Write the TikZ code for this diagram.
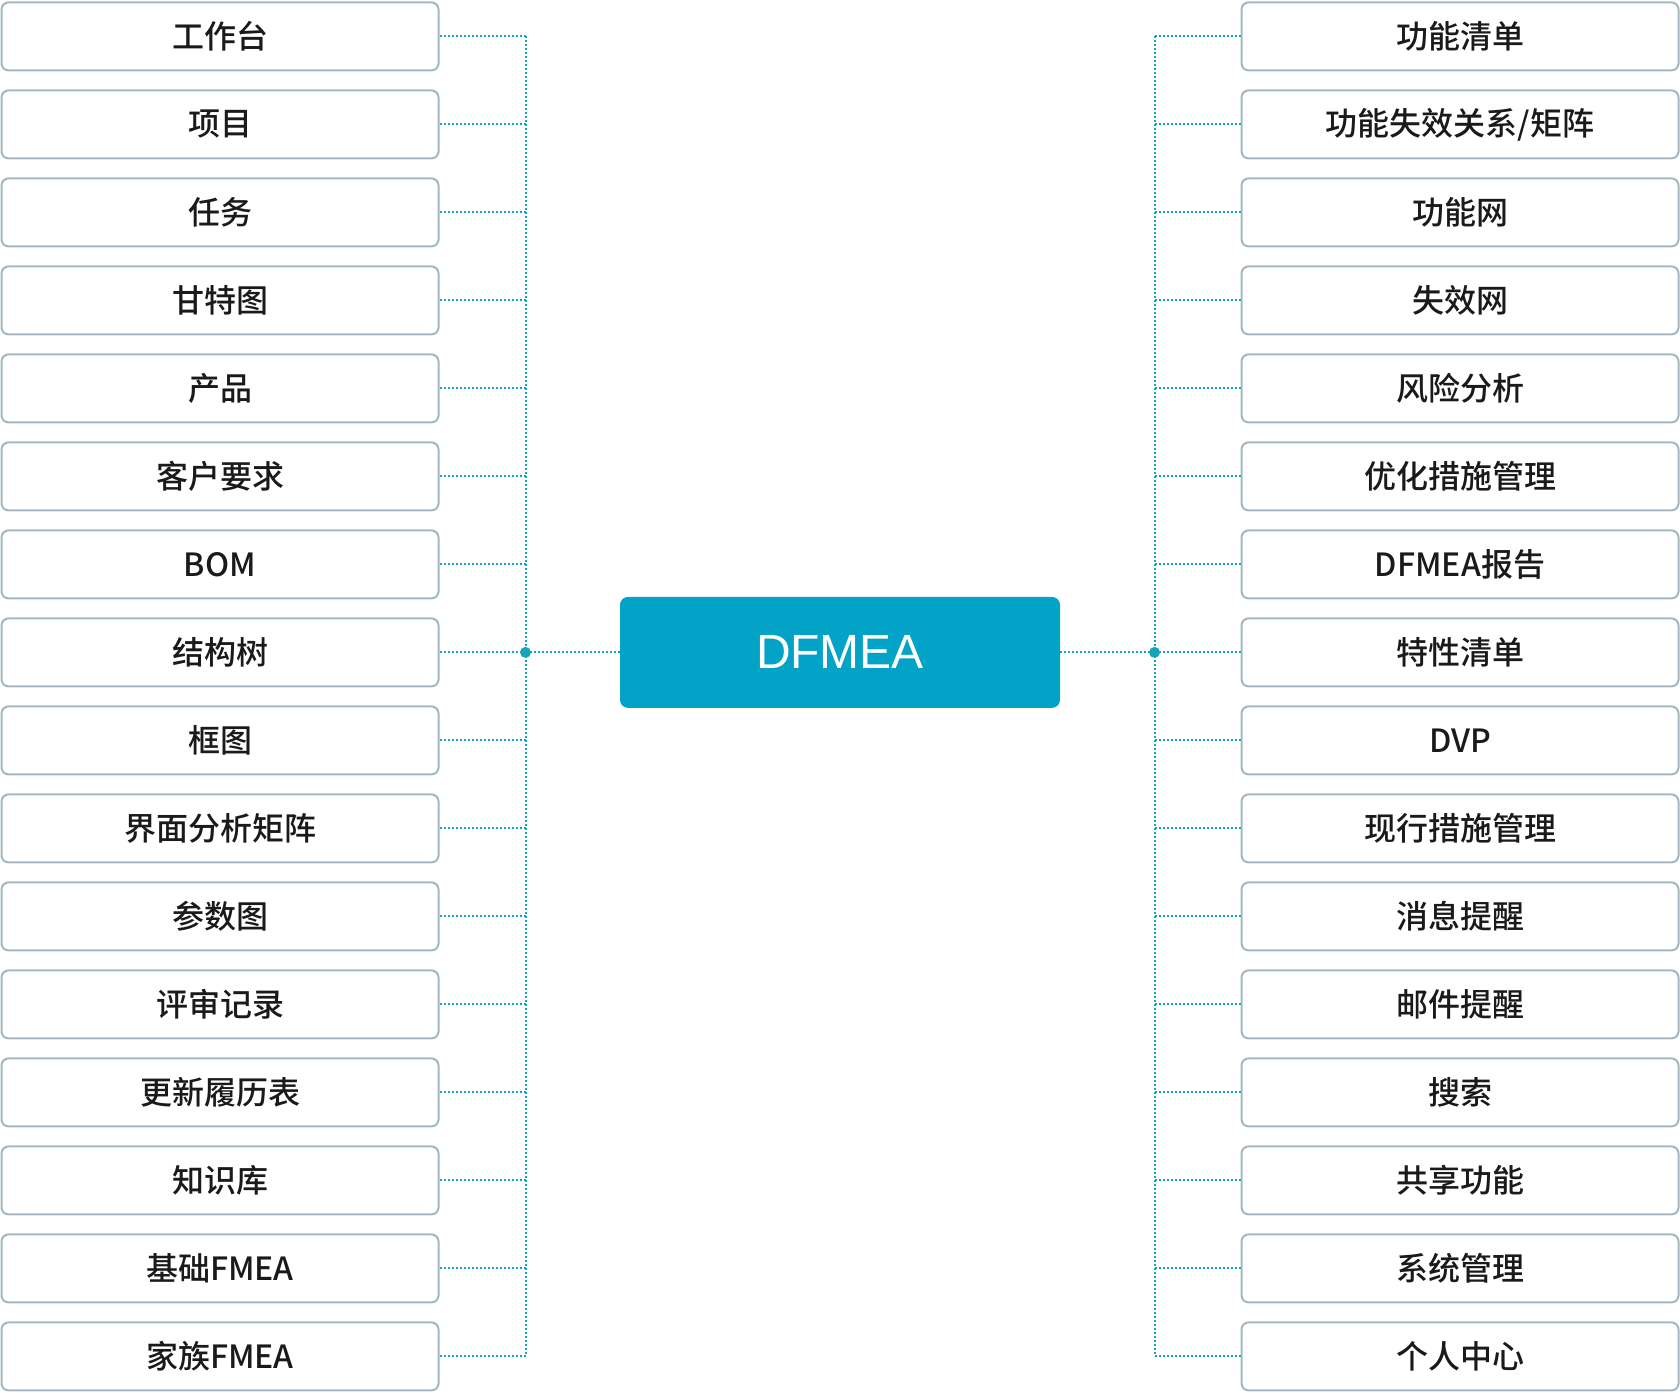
\documentclass[tikz,border=0pt]{standalone}
\usepackage{fontspec}
\setmainfont{Noto Sans CJK SC}[UprightFont={* Medium}]
\newfontfamily\latinf{Liberation Sans}
\definecolor{boxline}{HTML}{A3B8C0}
\definecolor{conncol}{HTML}{12A5BC}
\definecolor{mainfill}{HTML}{02A3C6}
\definecolor{txt}{HTML}{1A1A1A}
\begin{document}
\begin{tikzpicture}[x=1pt,y=-1pt,
  itembox/.style={draw=boxline, line width=2pt, rounded corners=7pt, fill=white,
    minimum width=437pt, minimum height=68pt, inner sep=0pt, text=txt,
    font=\fontsize{32}{32}\selectfont},
  mainbox/.style={fill=mainfill, rounded corners=8pt, minimum width=440pt,
    minimum height=111pt, inner sep=0pt, text=white,
    font=\latinf\fontsize{48}{48}\selectfont},
  conn/.style={draw=conncol, line width=2pt, dash pattern=on 2pt off 2pt}]
\useasboundingbox (0,0) rectangle (1680,1392);
\foreach \t [count=\i] in {工作台,项目,任务,甘特图,产品,客户要求,BOM,结构树,框图,界面分析矩阵,参数图,评审记录,更新履历表,知识库,基础FMEA,家族FMEA}
  \node[itembox] (L\i) at (220, 36.4+88*\i-88) {\t};
\foreach \t [count=\i] in {功能清单,功能失效关系/矩阵,功能网,失效网,风险分析,优化措施管理,DFMEA报告,特性清单,DVP,现行措施管理,消息提醒,邮件提醒,搜索,共享功能,系统管理,个人中心}
  \node[itembox] (R\i) at (1460, 36.4+88*\i-88) {\t};
\node[mainbox] (C) at (840, 652.4) {DFMEA};
\coordinate (jl) at (525.5, 652.4);
\coordinate (jr) at (1154.5, 652.4);
\foreach \i in {1,...,16} {
  \draw[conn] (L\i.east) -- (L\i.east -| jl);
  \draw[conn] (R\i.west) -- (R\i.west -| jr);
}
\draw[conn] (L1.east -| jl) -- (L16.east -| jl);
\draw[conn] (R1.west -| jr) -- (R16.west -| jr);
\draw[conn] (jl) -- (C.west);
\draw[conn] (C.east) -- (jr);
\fill[conncol] (jl) circle (5.5pt);
\fill[conncol] (jr) circle (5.5pt);
\end{tikzpicture}
\end{document}
